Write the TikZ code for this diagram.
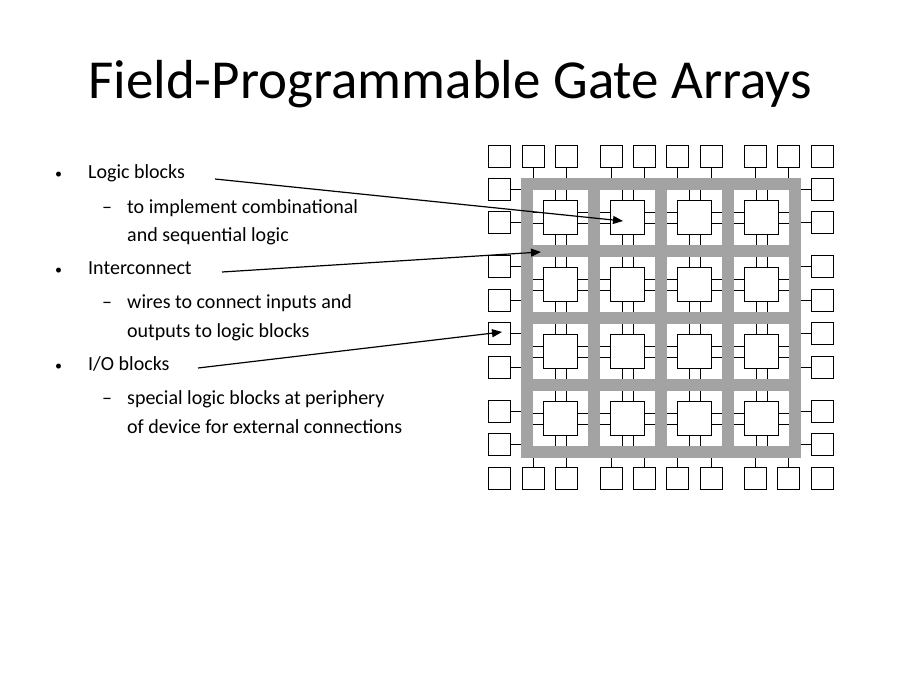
\documentclass[tikz,border=0pt]{standalone}
\usepackage{fontspec}
\setmainfont{Carlito}
\usetikzlibrary{arrows.meta}
\begin{document}
\begin{tikzpicture}[x=1pt,y=-1pt,
  io/.style={draw,line width=1pt,minimum size=22pt,inner sep=0,fill=white},
  lb/.style={draw,line width=1pt,minimum size=34pt,inner sep=0,fill=white},
  wire/.style={line width=1pt},
  txt/.style={anchor=base west,inner sep=0,font=\fontsize{20}{24}\selectfont},
  arr/.style={line width=1.2pt,-{Triangle[length=10pt,width=8pt]}}]
\useasboundingbox (0,0) rectangle (900,675);
\node (title) at (450,84) {\fontsize{55}{64}\selectfont Field-Programmable Gate Arrays};
% fabric
\fill[gray!72] (521,178) rectangle (801,458);
\foreach \i in {0,...,3}{\foreach \j in {0,...,3}{
  \pgfmathsetmacro\cx{560.5+67*\i}\pgfmathsetmacro\cy{217.5+67*\j}
  \fill[white] (\cx-27.5,\cy-27.5) rectangle (\cx+27.5,\cy+27.5);
  \foreach \d in {-5.5,5.5}{
    \draw[wire] (\cx+\d,\cy-27.5) -- (\cx+\d,\cy+27.5);
    \draw[wire] (\cx-27.5,\cy+\d) -- (\cx+27.5,\cy+\d);}
  \node[lb] (lb-\i-\j) at (\cx,\cy) {};
}}
% IO blocks
\foreach \p [count=\k] in {522,555,600,633,666,700,744,777}{
  \node[io] (t\k) at (\p+11,156) {};
  \node[io] (b\k) at (\p+11,478) {};
  \draw[wire] (t\k.south) -- (\p+11,178);
  \draw[wire] (b\k.north) -- (\p+11,458);
}
\foreach \p [count=\k] in {178,211,255,289,322,356,400,433}{
  \node[io] (l\k) at (499.5,\p+11) {};
  \node[io] (r\k) at (822,\p+11) {};
  \draw[wire] (l\k.east) -- (521,\p+11);
  \draw[wire] (r\k.west) -- (801,\p+11);
}
\node[io] (c1) at (499.5,156) {};
\node[io] (c2) at (822,156) {};
\node[io] (c3) at (499.5,478) {};
\node[io] (c4) at (822,478) {};
% text
\foreach \y in {178,274,370}{\node[txt,font=\fontsize{14}{16}\selectfont] at (55,\y) {•};}
\node[txt] (t-logic) at (88,178) {Logic blocks};
\node[txt] at (102,213) {–};
\node[txt] at (127,213) {to implement combinational};
\node[txt] at (127,241) {and sequential logic};
\node[txt] (t-inter) at (88,274) {Interconnect};
\node[txt] at (102,308) {–};
\node[txt] at (127,308) {wires to connect inputs and};
\node[txt] at (127,337) {outputs to logic blocks};
\node[txt] (t-io) at (88,370) {I/O blocks};
\node[txt] at (102,404) {–};
\node[txt] at (127,404) {special logic blocks at periphery};
\node[txt] at (127,433) {of device for external connections};
% arrows
\coordinate (a1) at (623,221);
\coordinate (a2) at (541,252);
\coordinate (a3) at (502,332);
\draw[arr] (215,179) -- (a1);
\draw[arr] (222,272) -- (a2);
\draw[arr] (198,368) -- (a3);
\end{tikzpicture}
\end{document}
